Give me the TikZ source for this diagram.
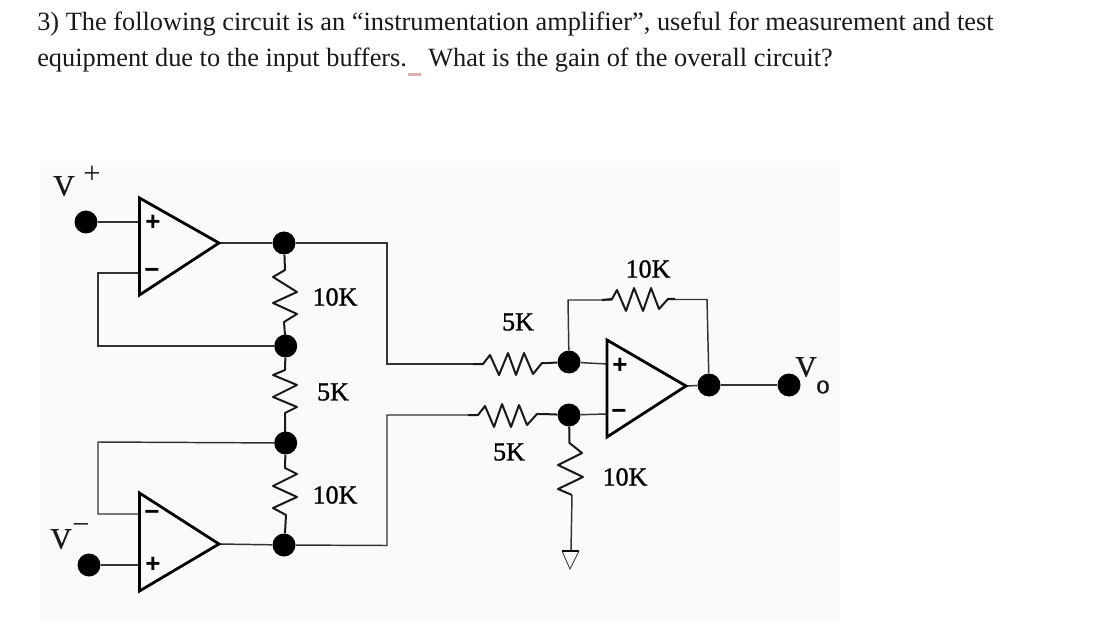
\documentclass[tikz,border=0pt]{standalone}
\usepackage{fontspec}
\setmainfont{Liberation Serif}
\newfontfamily\heavy[FakeBold=1]{Liberation Serif}
\newfontfamily\signs{Liberation Sans}
\newcommand{\pxfont}[1]{\fontsize{#1}{#1}\selectfont}
\tikzset{
  x=0.75pt,y=-0.75pt,
  wire/.style={line width=1.1pt,color=black!80,line join=miter},
  res/.style={line width=1.5pt,color=black!90,line join=round},
  amp/.style={line width=2.1pt,color=black,line join=miter},
  dot/.style={circle,fill=black,draw=none,minimum size=17.25pt,inner sep=0pt},
  val/.style={font=\heavy\pxfont{19.5},inner sep=0pt,text=black},
  big/.style={font=\heavy\pxfont{22},inner sep=0pt,text=black!90},
  sup/.style={font=\pxfont{19.5},inner sep=0pt,text=black!90},
  sgn/.style={font=\signs\bfseries\pxfont{19.5},inner sep=0pt,text=black},
  para/.style={font=\pxfont{19.76},inner sep=0pt,anchor=base west,text=black!90},
}
\begin{document}
\begin{tikzpicture}
\useasboundingbox (0,0) rectangle (1105,634);
\fill[white] (0,0) rectangle (1105,634);
\fill[black!2] (40,161) rectangle (840,621);
% text
\node[para] (l1) at (37,31) {3) The following circuit is an “instrumentation amplifier”, useful for measurement and test};
\node[para] (l2) at (37,67) {equipment due to the input buffers.};
\node[para] (l3) at (428,67) {What is the gain of the overall circuit?};
\fill[red!50!black!30!white] (408,73) rectangle (421,76);
% op-amp corners and pins
\coordinate (t1) at (139.5,198); \coordinate (u1) at (139.5,295); \coordinate (o1) at (219,243);
\coordinate (t2) at (139.5,493); \coordinate (u2) at (139.5,591); \coordinate (o2) at (219,544);
\coordinate (t3) at (607,340); \coordinate (u3) at (607,437); \coordinate (o3) at (686,386);
\coordinate (p1) at (139.5,222); \coordinate (n1) at (139.5,273);
\coordinate (p2) at (139.5,565); \coordinate (n2) at (139.5,514);
\coordinate (p3) at (607,364); \coordinate (n3) at (607,414);
% dots
\node[dot] (vp) at (86,222) {};
\node[dot] (vm) at (89,565) {};
\node[dot] (a) at (284,243) {};
\node[dot] (b) at (285.7,346) {};
\node[dot] (c) at (285.7,443) {};
\node[dot] (d) at (284,545) {};
\node[dot] (e) at (569,362) {};
\node[dot] (f) at (569,415) {};
\node[dot] (g) at (709,385) {};
\node[dot] (vo) at (789,385) {};
% wires
\draw[wire] (vp) -- (p1);
\draw[wire] (vm) -- (p2);
\draw[wire] (o1) -- (a);
\draw[wire] (o2) -- (d);
\draw[wire] (n1) -- (98,273) -- (98,346) -- (b);
\draw[wire] (n2) -- (98,514) -- (98,442) -- (c);
\draw[wire] (a) -- (387,243) -- (387,364) -- (483,364);
\draw[wire] (d) -- (387,545.5) -- (387,415) -- (478,415);
\draw[wire] (e) -- (p3);
\draw[wire] (f) -- (n3);
\draw[wire] (o3) -- (g);
\draw[wire] (g) -- (vo);
\draw[wire] (e) -- (568,300) -- (612,300);
\draw[wire] (668,299.5) -- (707,299.5) -- (g);
\draw[wire] (572,495) -- (571,551);
% resistors
\draw[res] (a) -- (285,270) -- (273,277) -- (297,292) -- (273,303) -- (297,314) -- (284,322) -- (285,335) -- (b);
\draw[res] (b) -- (285,370) -- (273,375) -- (297,385) -- (273,397) -- (297,407) -- (285,413) -- (285,432) -- (c);
\draw[res] (c) -- (285,468) -- (297,474) -- (273,486) -- (297,497) -- (273,508) -- (286,515) -- (285,533) -- (d);
\draw[res] (473,364) -- (483,364) -- (490,355) -- (499,375) -- (508,353) -- (516,375) -- (524,353) -- (533,374) -- (542,363) -- (547,363) -- (e);
\draw[res] (468,415) -- (478,415) -- (485,406) -- (494,427) -- (502,404) -- (511,427) -- (519,405) -- (527,425) -- (537,414) -- (543,414) -- (f);
\draw[res] (602,300) -- (612,299) -- (617,290) -- (626,311) -- (634,288) -- (643,311) -- (651,288) -- (659,309) -- (668,299) -- (675,299);
\draw[res] (f) -- (569.5,443) -- (582,453) -- (558,465) -- (583,477) -- (558,489) -- (572,495);
% ground
\draw[line width=1.5pt] (562,551) -- (579,551);
\draw[line width=0.6pt,color=black!80] (562,551) -- (570,569) -- (579,551);
% op-amps
\draw[amp] (t1) -- (o1) -- (u1) -- cycle;
\draw[amp] (t2) -- (o2) -- (u2) -- cycle;
\draw[amp] (t3) -- (o3) -- (u3) -- cycle;
% signs
\node[sgn] (s1) at (153,223) {+};
\node[sgn] (s2) at (152,273) {−};
\node[sgn] (s3) at (152,515) {−};
\node[sgn] (s4) at (153,565) {+};
\node[sgn] (s5) at (620,366) {+};
\node[sgn] (s6) at (619,414) {−};
% values
\node[val] (r1) at (335,297) {10K};
\node[val] (r2) at (333,392) {5K};
\node[val] (r3) at (335,495) {10K};
\node[val] (r4) at (648,269) {10K};
\node[val] (r5) at (518,322) {5K};
\node[val] (r6) at (509,452) {5K};
\node[val] (r7) at (625,477) {10K};
% terminals
\node[big] (v1) at (64,186) {V};
\node[sup,font=\pxfont{23}] (v1s) at (92,175) {+};
\node[big] (v2) at (61,539) {V};
\node[sup,font=\pxfont{23}] (v2s) at (81,529) {−};
\node[big] (v3) at (806,367) {V};
\node[sup,font=\heavy\pxfont{20}] (v3s) at (823,387) {o};
\end{tikzpicture}
\end{document}
